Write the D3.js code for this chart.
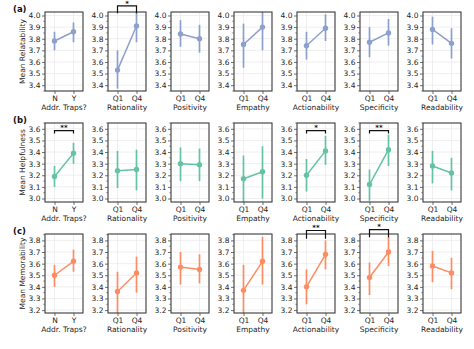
<!DOCTYPE html>
<html>
<head>
<meta charset="utf-8">
<script src="https://cdn.jsdelivr.net/npm/d3@7"></script>
<style>
  html, body { margin: 0; padding: 0; background: #fff; }
  svg { display: block; font-family: "DejaVu Sans", sans-serif; }
</style>
</head>
<body>
<svg id="chart" width="474" height="349"></svg>
<script>
// Row (metric) definitions
const metrics = ["Mean Relatability", "Mean Helpfulness", "Mean Memorability"];
const rowTags = ["(a)", "(b)", "(c)"];
const rowColors = ["#8da0cb", "#66c2a5", "#fc8d62"];

// Column (feature) definitions
const features = ["Addr. Traps?", "Rationality", "Positivity", "Empathy", "Actionability", "Specificity", "Readability"];
const levelsTraps = ["N", "Y"];
const levelsQuartile = ["Q1", "Q4"];

// y-axis extents and tick labels per metric
const yDomains = [[3.35, 4.03], [2.97, 3.65], [3.175, 3.855]];
const yTicksRelatability = [3.4, 3.5, 3.6, 3.7, 3.8, 3.9, 4.0];
const yTicksHelpfulness = [3.0, 3.1, 3.2, 3.3, 3.4, 3.5, 3.6];
const yTicksMemorability = [3.2, 3.3, 3.4, 3.5, 3.6, 3.7, 3.8];

// Means and 95% CI bounds: one [low-level, high-level] pair per feature
const relatabilityMean = [[3.78, 3.86], [3.53, 3.91], [3.84, 3.80], [3.75, 3.90], [3.74, 3.89], [3.77, 3.85], [3.88, 3.76]];
const relatabilityLo   = [[3.70, 3.77], [3.37, 3.77], [3.73, 3.68], [3.55, 3.70], [3.62, 3.78], [3.64, 3.74], [3.75, 3.63]];
const relatabilityHi   = [[3.86, 3.94], [3.70, 4.04], [3.96, 3.92], [3.93, 4.06], [3.86, 4.01], [3.90, 3.97], [3.99, 3.89]];

const helpfulnessMean = [[3.19, 3.39], [3.24, 3.25], [3.30, 3.29], [3.17, 3.23], [3.20, 3.41], [3.12, 3.42], [3.28, 3.22]];
const helpfulnessLo   = [[3.10, 3.30], [3.09, 3.07], [3.15, 3.15], [2.94, 3.00], [3.06, 3.29], [2.98, 3.28], [3.13, 3.07]];
const helpfulnessHi   = [[3.28, 3.48], [3.41, 3.42], [3.44, 3.43], [3.37, 3.45], [3.34, 3.54], [3.25, 3.55], [3.41, 3.35]];

const memorabilityMean = [[3.50, 3.62], [3.36, 3.52], [3.57, 3.55], [3.37, 3.62], [3.40, 3.68], [3.48, 3.70], [3.58, 3.52]];
const memorabilityLo   = [[3.40, 3.53], [3.17, 3.35], [3.42, 3.43], [3.15, 3.42], [3.25, 3.55], [3.33, 3.58], [3.44, 3.38]];
const memorabilityHi   = [[3.59, 3.72], [3.53, 3.66], [3.70, 3.68], [3.59, 3.83], [3.55, 3.80], [3.61, 3.83], [3.71, 3.65]];

// Significance brackets: row, feature, stars, bracket level and leg end (data units)
const sigRows   = [0, 1, 1, 1, 2, 2];
const sigFeats  = [1, 0, 4, 5, 4, 5];
const sigLabels = ["*", "**", "*", "**", "**", "*"];
const sigTop    = [4.083, 3.585, 3.585, 3.585, 3.885, 3.893];
const sigBottom = [4.02, 3.56, 3.56, 3.56, 3.815, 3.826];

const rowMeans = [relatabilityMean, helpfulnessMean, memorabilityMean];
const rowLo = [relatabilityLo, helpfulnessLo, memorabilityLo];
const rowHi = [relatabilityHi, helpfulnessHi, memorabilityHi];
const rowTicks = [yTicksRelatability, yTicksHelpfulness, yTicksMemorability];

// Layout
const panelW = 38, panelH = 79;
const colX = d3.scaleLinear().domain([0, 1]).range([45, 108]);
const rowTops = [12, 123, 234];
const fontSize = 7.5;
const textColor = "#262626";

const svg = d3.select("#chart");
const defs = svg.append("defs");

rowTops.forEach((top, r) => {
  const y = d3.scaleLinear().domain(yDomains[r]).range([top + panelH, top]);
  const color = rowColors[r];
  const minorTicks = d3.range(rowTicks[r].length - 1).map(i => (rowTicks[r][i] + rowTicks[r][i + 1]) / 2)
    .concat([rowTicks[r][0] - 0.05, rowTicks[r][rowTicks[r].length - 1] + 0.05])
    .filter(v => v >= yDomains[r][0] && v <= yDomains[r][1]);

  // row tag and y-axis title
  svg.append("text").attr("x", 13).attr("y", top).attr("font-size", 8.5).attr("font-weight", "bold")
    .attr("fill", "#111").text(rowTags[r]);
  svg.append("text")
    .attr("transform", `translate(25,${top + panelH / 2}) rotate(-90)`)
    .attr("text-anchor", "middle").attr("font-size", fontSize).attr("fill", textColor)
    .text(metrics[r]);

  features.forEach((feat, c) => {
    const left = colX(c);
    const levels = c === 0 ? levelsTraps : levelsQuartile;
    const x = d3.scalePoint().domain(levels).range([left, left + panelW]).padding(0.5);
    const g = svg.append("g");
    const clipId = `clip-${r}-${c}`;
    defs.append("clipPath").attr("id", clipId).append("rect")
      .attr("x", left).attr("y", top).attr("width", panelW).attr("height", panelH);

    // grid
    g.selectAll(".hgrid").data(rowTicks[r]).join("line")
      .attr("x1", left).attr("x2", left + panelW)
      .attr("y1", d => y(d)).attr("y2", d => y(d))
      .attr("stroke", "#e8e8e8").attr("stroke-width", 0.7);
    g.selectAll(".vgrid").data(levels).join("line")
      .attr("x1", d => x(d)).attr("x2", d => x(d))
      .attr("y1", top).attr("y2", top + panelH)
      .attr("stroke", "#e8e8e8").attr("stroke-width", 0.7);

    // y axis (major ticks with labels + minor ticks)
    const yAxis = d3.axisLeft(y).tickValues(rowTicks[r]).tickFormat(d3.format(".1f")).tickSize(3).tickPadding(1.5);
    const ya = g.append("g").attr("transform", `translate(${left},0)`).call(yAxis);
    ya.select(".domain").remove();
    ya.selectAll("line").attr("stroke", "#333").attr("stroke-width", 0.7);
    ya.selectAll("text").attr("font-size", fontSize).attr("fill", textColor).attr("font-family", "DejaVu Sans");
    g.selectAll(".minor").data(minorTicks).join("line")
      .attr("x1", left - 1.8).attr("x2", left)
      .attr("y1", d => y(d)).attr("y2", d => y(d))
      .attr("stroke", "#333").attr("stroke-width", 0.5);

    // x axis
    const xAxis = d3.axisBottom(x).tickSize(3).tickPadding(1.5);
    const xa = g.append("g").attr("transform", `translate(0,${top + panelH})`).call(xAxis);
    xa.select(".domain").remove();
    xa.selectAll("line").attr("stroke", "#333").attr("stroke-width", 0.7);
    xa.selectAll("text").attr("font-size", fontSize).attr("fill", textColor).attr("font-family", "DejaVu Sans");
    g.append("text").attr("x", left + panelW / 2).attr("y", top + panelH + 19)
      .attr("text-anchor", "middle").attr("font-size", fontSize).attr("fill", textColor).text(feat);

    // data marks
    const pts = levels.map((lv, i) => ({
      lv, m: rowMeans[r][c][i], lo: rowLo[r][c][i], hi: rowHi[r][c][i]
    }));
    const marks = g.append("g").attr("clip-path", `url(#${clipId})`);
    marks.append("path").datum(pts)
      .attr("d", d3.line().x(d => x(d.lv)).y(d => y(d.m)))
      .attr("fill", "none").attr("stroke", color).attr("stroke-width", 1.5);
    marks.selectAll(".err").data(pts).join("line")
      .attr("x1", d => x(d.lv)).attr("x2", d => x(d.lv))
      .attr("y1", d => y(d.lo)).attr("y2", d => y(d.hi))
      .attr("stroke", color).attr("stroke-width", 1.7);
    marks.selectAll(".pt").data(pts).join("circle")
      .attr("cx", d => x(d.lv)).attr("cy", d => y(d.m)).attr("r", 2.7)
      .attr("fill", color);

    // frame
    g.append("rect").attr("x", left).attr("y", top).attr("width", panelW).attr("height", panelH)
      .attr("fill", "none").attr("stroke", "#3a3a3a").attr("stroke-width", 1.1);

    // significance bracket
    sigRows.forEach((sr, k) => {
      if (sr !== r || sigFeats[k] !== c) return;
      const x1 = x(levels[0]), x2 = x(levels[1]);
      const yt = y(sigTop[k]), yb = y(sigBottom[k]);
      g.append("path")
        .attr("d", `M${x1},${yb}L${x1},${yt}L${x2},${yt}L${x2},${yb}`)
        .attr("fill", "none").attr("stroke", "#111").attr("stroke-width", 1.2);
      g.append("text").attr("x", (x1 + x2) / 2).attr("y", yt - 0.3)
        .attr("text-anchor", "middle").attr("font-size", 7).attr("font-weight", "bold")
        .attr("fill", "#111").text(sigLabels[k]);
    });
  });
});
</script>
</body>
</html>
